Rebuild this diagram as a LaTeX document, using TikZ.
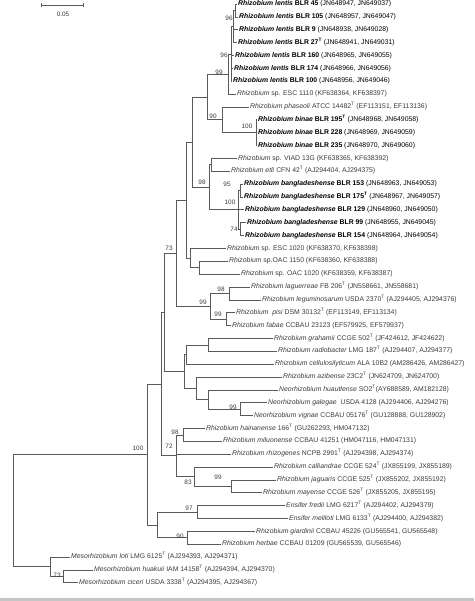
\documentclass[tikz,border=0pt]{standalone}
\usepackage{fontspec}
\setmainfont{Liberation Sans}
\definecolor{lc}{HTML}{5A5A5A}
\definecolor{tc}{HTML}{3A3A3A}
\newcommand{\tsup}{\textsuperscript{T}}
\newcommand{\bsp}[2]{{\bfseries\itshape #1} {\bfseries #2}}
\tikzset{
 br/.style={draw=lc, line width=0.55pt},
 leaf/.style={anchor=west, inner xsep=1pt, inner ysep=0pt, text height=4.9pt, text depth=1.4pt, font=\fontsize{6.85}{8}\selectfont, text=tc},
 bleaf/.style={leaf, text=black},
 bs/.style={font=\fontsize{6.4}{7}\selectfont, text=tc, inner sep=0pt},
}
\begin{document}
\begin{tikzpicture}[x=1pt,y=-1pt]
\useasboundingbox (0,0) rectangle (474,601);
% scale bar
\coordinate (sb1) at (41,5);
\coordinate (sb2) at (83,5);
\draw[br] (sb1) -- (sb2);
\draw[br] ([yshift=-2pt]sb1) -- ([yshift=2pt]sb1);
\draw[br] ([yshift=-2pt]sb2) -- ([yshift=2pt]sb2);
\node[bs] (sbl) at (63,14) {0.05};
% leaves
\node[bleaf] (l0) at (237,4) {\bsp{Rhizobium lentis}{BLR 45} (JN648947, JN649037)};
\node[bleaf] (l1) at (238,16.86) {\bsp{Rhizobium lentis}{BLR 105} (JN648957, JN649047)};
\node[bleaf] (l2) at (238,29.72) {\bsp{Rhizobium lentis}{BLR 9} (JN648938, JN649028)};
\node[bleaf] (l3) at (237,42.58) {\bsp{Rhizobium lentis}{BLR 27\tsup} (JN648941, JN649031)};
\node[bleaf] (l4) at (234,55.44) {\bsp{Rhizobium lentis}{BLR 160} (JN648965, JN649055)};
\node[bleaf] (l5) at (233,68.3) {\bsp{Rhizobium lentis}{BLR 174} (JN648966, JN649056)};
\node[bleaf] (l6) at (232,81.16) {\bsp{Rhizobium lentis}{BLR 100} (JN648956, JN649046)};
\node[leaf] (l7) at (236,94.02) {\textit{Rhizobium} sp. ESC 1110 (KF638364, KF638397)};
\node[leaf] (l8) at (249,106.88) {\textit{Rhizobium phaseoli} ATCC 14482\tsup{} (EF113151, EF113136)};
\node[bleaf] (l9) at (257,119.74) {\bsp{Rhizobium binae}{BLR 195\tsup} (JN648968, JN649058)};
\node[bleaf] (l10) at (257,132.6) {\bsp{Rhizobium binae}{BLR 228} (JN648969, JN649059)};
\node[bleaf] (l11) at (257,145.46) {\bsp{Rhizobium binae}{BLR 235} (JN648970, JN649060)};
\node[leaf] (l12) at (237,158.32) {\textit{Rhizobium} sp. VIAD 13G (KF638365, KF638392)};
\node[leaf] (l13) at (230,171.18) {\textit{Rhizobium etli} CFN 42\tsup{} (AJ294404, AJ294375)};
\node[bleaf] (l14) at (243,184.04) {\bsp{Rhizobium bangladeshense}{BLR 153} (JN648963, JN649053)};
\node[bleaf] (l15) at (243,196.9) {\bsp{Rhizobium bangladeshense}{BLR 175\tsup} (JN648967, JN649057)};
\node[bleaf] (l16) at (244,209.76) {\bsp{Rhizobium bangladeshense}{BLR 129} (JN648960, JN649050)};
\node[bleaf] (l17) at (246,222.62) {\bsp{Rhizobium bangladeshense}{BLR 99} (JN648955, JN649045)};
\node[bleaf] (l18) at (244,235.48) {\bsp{Rhizobium bangladeshense}{BLR 154} (JN648964, JN649054)};
\node[leaf] (l19) at (226,248.34) {\textit{Rhizobium} sp. ESC 1020 (KF638370, KF638398)};
\node[leaf] (l20) at (228,261.2) {\textit{Rhizobium} sp.OAC 1150 (KF638360, KF638388)};
\node[leaf] (l21) at (240,274.06) {\textit{Rhizobium} sp. OAC 1020 (KF638359, KF638387)};
\node[leaf] (l22) at (250,286.92) {\textit{Rhizobium laguerreae} FB 206\tsup{} (JN558661, JN558681)};
\node[leaf] (l23) at (261,299.78) {\textit{Rhizobium leguminosarum} USDA 2370\tsup{} (AJ294405, AJ294376)};
\node[leaf] (l24) at (235,312.64) {\textit{Rhizobium\ \ pisi} DSM 30132\tsup{} (EF113149, EF113134)};
\node[leaf] (l25) at (231,325.5) {\textit{Rhizobium fabae} CCBAU 23123 (EF579925, EF579937)};
\node[leaf] (l26) at (273,338.36) {\textit{Rhizobium grahamii} CCGE 502\tsup{} (JF424612, JF424622)};
\node[leaf] (l27) at (277,351.22) {\textit{Rhizobium radiobacter} LMG 187\tsup{} (AJ294407, AJ294377)};
\node[leaf] (l28) at (274,364.08) {\textit{Rhizobium cellulosilyticum} ALA 10B2 (AM286426, AM286427)};
\node[leaf] (l29) at (282,376.94) {\textit{Rhizobium azibense} 23C2\tsup{} (JN624709, JN624700)};
\node[leaf] (l30) at (278,389.8) {\textit{Neorhizobium huautlense} SO2\tsup(AY688589, AM182128)};
\node[leaf] (l31) at (267,402.66) {\textit{Neorhizobium galegae}\ \ USDA 4128 (AJ294406, AJ294276)};
\node[leaf] (l32) at (253,415.52) {\textit{Neorhizobium vignae} CCBAU 05176\tsup{} (GU128888, GU128902)};
\node[leaf] (l33) at (205,428.38) {\textit{Rhizobium hainanense} 166\tsup{} (GU262293, HM047132)};
\node[leaf] (l34) at (222,441.24) {\textit{Rhizobium miluonense} CCBAU 41251 (HM047116, HM047131)};
\node[leaf] (l35) at (231,454.1) {\textit{Rhizobium rhizogenes} NCPB 2991\tsup{} (AJ294398, AJ294374)};
\node[leaf] (l36) at (273,466.96) {\textit{Rhizobium calliandrae} CCGE 524\tsup{} (JX855199, JX855189)};
\node[leaf] (l37) at (276,479.82) {\textit{Rhizobium jaguaris} CCGE 525\tsup{} (JX855202, JX855192)};
\node[leaf] (l38) at (262,492.68) {\textit{Rhizobium mayense} CCGE 526\tsup{} (JX855205, JX855195)};
\node[leaf] (l39) at (285,505.54) {\textit{Ensifer fredii} LMG 6217\tsup{} (AJ294402, AJ294379)};
\node[leaf] (l40) at (288,518.4) {\textit{Ensifer meliloti} LMG 6133\tsup{} (AJ294400, AJ294382)};
\node[leaf] (l41) at (255,531.26) {\textit{Rhizobium giardinii} CCBAU 45226 (GU565541, GU565548)};
\node[leaf] (l42) at (221,544.12) {\textit{Rhizobium herbae} CCBAU 01209 (GU565539, GU565546)};
\node[leaf] (l43) at (70,556.98) {\textit{Mesorhizobium loti} LMG 6125\tsup{} (AJ294393, AJ294371)};
\node[leaf] (l44) at (93,569.84) {\textit{Mesorhizobium huakuii} IAM 14158\tsup{} (AJ294394, AJ294370)};
\node[leaf] (l45) at (78,582.7) {\textit{Mesorhizobium ciceri} USDA 3338\tsup{} (AJ294395, AJ294367)};
% internal nodes
\coordinate (Lb) at (235,10.43);
\coordinate (La) at (233,26.5);
\coordinate (Lc) at (231,53.83);
\coordinate (N99L) at (228,73.9);
\coordinate (Nbin) at (256,132.6);
\coordinate (N90) at (222,119.74);
\coordinate (N207) at (207,96.8);
\coordinate (Nve) at (211,164.75);
\coordinate (S95) at (240,190.47);
\coordinate (S74) at (240,229.05);
\coordinate (Nbang) at (238,209.76);
\coordinate (N98) at (209,187.26);
\coordinate (N192) at (192,142.03);
\coordinate (Noac) at (199,267.63);
\coordinate (N190) at (190,257.99);
\coordinate (N186) at (186,200.01);
\coordinate (N98a) at (229,293.35);
\coordinate (N99c) at (226,319.07);
\coordinate (N99a) at (210,306.21);
\coordinate (N176) at (176,253.11);
\coordinate (Ngr) at (208,344.79);
\coordinate (G) at (186,354.44);
\coordinate (N99n) at (240,409.09);
\coordinate (Nn) at (208,399.45);
\coordinate (N196) at (196,388.2);
\coordinate (N185) at (184,371.32);
\coordinate (N164) at (164,312.2);
\coordinate (N98h) at (183,434.81);
\coordinate (Njm) at (231,486.25);
\coordinate (N83) at (194,476.6);
\coordinate (N72) at (176,455.7);
\coordinate (N160) at (161,383.95);
\coordinate (N97) at (197,511.97);
\coordinate (N90g) at (187,537.69);
\coordinate (N157) at (157,524.83);
\coordinate (N147) at (147,454.39);
\coordinate (N73m) at (63,576.27);
\coordinate (N50) at (50,566.63);
\coordinate (Root) at (13,510.5);
% branches
\foreach \p/\c in {Lb/l0.west, Lb/l1.west, La/Lb, La/l2.west, La/l3.west,
  Lc/La, Lc/l4.west, Lc/l5.west, Lc/l6.west, N99L/Lc, N99L/l7.west,
  Nbin/l9.west, Nbin/l10.west, Nbin/l11.west, N90/l8.west, N90/Nbin,
  N207/N99L, N207/N90, Nve/l12.west, Nve/l13.west, S95/l14.west, S95/l15.west,
  S74/l17.west, S74/l18.west, Nbang/S95, Nbang/l16.west, Nbang/S74,
  N98/Nve, N98/Nbang, N192/N207, N192/N98, Noac/l20.west, Noac/l21.west,
  N190/l19.west, N190/Noac, N186/N192, N186/N190, N98a/l22.west, N98a/l23.west,
  N99c/l24.west, N99c/l25.west, N99a/N98a, N99a/N99c, N176/N186, N176/N99a,
  Ngr/l26.west, Ngr/l27.west, G/Ngr, G/l28.west, N99n/l31.west, N99n/l32.west,
  Nn/l30.west, Nn/N99n, N196/l29.west, N196/Nn, N185/G, N185/N196,
  N164/N176, N164/N185, N98h/l33.west, N98h/l34.west, Njm/l37.west, Njm/l38.west,
  N83/l36.west, N83/Njm, N72/N98h, N72/l35.west, N72/N83, N160/N164, N160/N72,
  N97/l39.west, N97/l40.west, N90g/l41.west, N90g/l42.west, N157/N97, N157/N90g,
  N147/N160, N147/N157, N73m/l44.west, N73m/l45.west, N50/l43.west, N50/N73m,
  Root/N147, Root/N50}
  \draw[br] (\p) |- (\c);
% bootstrap values
\node[bs] (b1) at (229,18) {96};
\node[bs] (b2) at (224,55) {96};
\node[bs] (b3) at (219,72) {99};
\node[bs] (b4) at (213,116) {90};
\node[bs] (b5) at (247,126) {100};
\node[bs] (b6) at (202,182) {98};
\node[bs] (b7) at (227,184) {95};
\node[bs] (b8) at (230,202) {100};
\node[bs] (b9) at (234,229) {74};
\node[bs] (b10) at (169,248) {73};
\node[bs] (b11) at (221,289) {98};
\node[bs] (b12) at (203,302) {99};
\node[bs] (b13) at (218,314) {99};
\node[bs] (b14) at (233,407) {99};
\node[bs] (b15) at (175,432) {98};
\node[bs] (b16) at (169,446) {72};
\node[bs] (b17) at (138,448) {100};
\node[bs] (b18) at (218,477) {99};
\node[bs] (b19) at (188,482) {83};
\node[bs] (b20) at (189,508) {97};
\node[bs] (b21) at (180,536) {90};
\node[bs] (b22) at (57,575) {73};
% bottom rule
\fill[gray!45] (0,598.2) rectangle (474,601);
\end{tikzpicture}
\end{document}
